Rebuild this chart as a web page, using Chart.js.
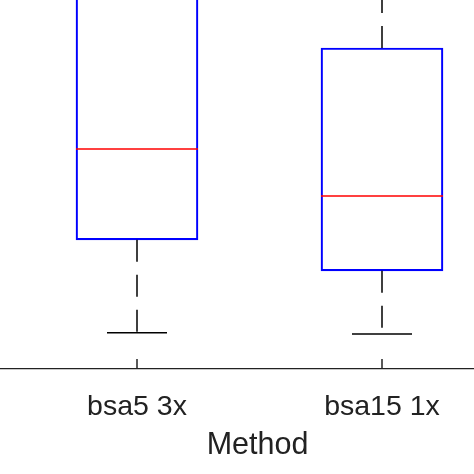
<!DOCTYPE html>
<html>
<head>
<meta charset="utf-8">
<script src="https://cdn.jsdelivr.net/npm/chart.js@4"></script>
<style>
  html, body { margin: 0; padding: 0; background: #fff; overflow: hidden; }
  /* the plot is cropped on the right, so the canvas runs past the window */
  #wrap { width: 515px; height: 474px; }
</style>
</head>
<body>
<div id="wrap"><canvas id="box"></canvas></div>
<script>
const methods = ['bsa5 3x', 'bsa15 1x'];
const positions = [1, 2];
const lowerWhisker = [0.98, 0.95];
const q1 = [3.50, 2.66];
const median = [5.96, 4.69];
const q3 = [11.0, 8.70];
const upperWhisker = [13.0, 12.0];

const boxData = positions.map((x, i) => ({ x, y: [q1[i], q3[i]] }));

// whiskers, caps, medians and inward ticks, drawn from the scales
const boxExtras = {
  id: 'boxExtras',
  afterDatasetsDraw(chart) {
    const { ctx, chartArea, scales: { x, y } } = chart;
    ctx.save();
    ctx.beginPath();
    ctx.rect(chartArea.left, chartArea.top, chartArea.right - chartArea.left, chartArea.bottom - chartArea.top);
    ctx.clip();
    positions.forEach((p, i) => {
      const cx = Math.round(x.getPixelForValue(p));
      const half = 30;
      ctx.strokeStyle = '#000';
      ctx.lineWidth = 1.5;
      // whiskers, dashed from the box edge outwards
      ctx.setLineDash([22, 13]);
      ctx.beginPath();
      ctx.moveTo(cx, y.getPixelForValue(q1[i]));
      ctx.lineTo(cx, y.getPixelForValue(lowerWhisker[i]));
      ctx.stroke();
      ctx.beginPath();
      ctx.moveTo(cx, y.getPixelForValue(q3[i]));
      ctx.lineTo(cx, y.getPixelForValue(upperWhisker[i]));
      ctx.stroke();
      ctx.setLineDash([]);
      // caps
      [lowerWhisker[i], upperWhisker[i]].forEach(v => {
        const py = y.getPixelForValue(v);
        ctx.beginPath();
        ctx.moveTo(cx - half, py);
        ctx.lineTo(cx + half, py);
        ctx.stroke();
      });
      // median
      const meta = chart.getDatasetMeta(0).data[i];
      const bw = meta.width / 2;
      ctx.strokeStyle = '#ff0000';
      ctx.beginPath();
      ctx.moveTo(cx - bw, y.getPixelForValue(median[i]));
      ctx.lineTo(cx + bw, y.getPixelForValue(median[i]));
      ctx.stroke();
      // tick mark pointing up from the axis
      ctx.strokeStyle = '#222';
      ctx.lineWidth = 1.5;
      ctx.beginPath();
      ctx.moveTo(cx, chartArea.bottom);
      ctx.lineTo(cx, chartArea.bottom - 10);
      ctx.stroke();
    });
    ctx.restore();
  }
};

new Chart(document.getElementById('box'), {
  type: 'bar',
  data: {
    datasets: [{
      data: boxData,
      backgroundColor: 'rgba(255,255,255,0)',
      borderColor: '#0000ff',
      borderWidth: 1.5,
      borderSkipped: false,
      barThickness: 122
    }]
  },
  options: {
    responsive: true,
    maintainAspectRatio: false,
    animation: false,
    layout: { padding: 0 },
    plugins: { legend: { display: false }, tooltip: { enabled: false } },
    scales: {
      x: {
        type: 'linear',
        offset: false,
        bounds: 'data',
        min: 0.4408,
        max: 2.5429,
        grid: { display: false },
        border: { display: true, color: '#222', width: 1.2 },
        afterBuildTicks: s => { s.ticks = positions.map(v => ({ value: v })); },
        afterFit: s => { s.height = 105; },
        ticks: {
          autoSkip: false,
          maxRotation: 0,
          padding: 13,
          color: '#222',
          font: { family: 'Liberation Sans, Arial, sans-serif', size: 28.5 },
          callback: (v) => methods[positions.indexOf(v)]
        },
        title: {
          display: true,
          text: 'Method',
          color: '#222',
          padding: { top: 0, bottom: 10 },
          font: { family: 'Liberation Sans, Arial, sans-serif', size: 30.5 }
        }
      },
      y: {
        display: false,
        min: 0,
        max: 10
      }
    }
  },
  plugins: [boxExtras]
});
</script>
</body>
</html>
